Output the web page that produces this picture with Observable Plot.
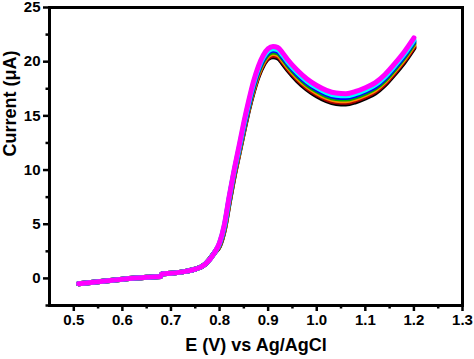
<!DOCTYPE html>
<html><head>
<meta charset="utf-8">
<script src="https://cdn.jsdelivr.net/npm/d3@7"></script>
<script src="https://cdn.jsdelivr.net/npm/@observablehq/plot@0.6"></script>
<style>body{margin:0;background:#fff;} svg{display:block;}</style>
</head><body><div id="chart"></div>
<script>
// Potential (V vs Ag/AgCl)
const potential = [0.51,0.55,0.60,0.65,0.679,0.681,0.70,0.73,0.75,0.77,0.79,
  0.80,0.81,0.82,0.83,0.84,0.85,0.86,0.87,0.88,0.89,0.90,0.91,0.92,0.93,0.94,
  0.96,0.98,1.00,1.02,1.04,1.06,1.08,1.10,1.12,1.14,1.16,1.18,1.20];

// Currents (µA), one array per scan, bottom to top
const curBlack   = [-0.5,-0.3,-0.08,0.1,0.18,0.42,0.48,0.65,0.85,1.3,2.4,
  3.0,4.5,7.0,9.4,11.5,13.6,15.6,17.3,18.7,19.7,20.3,20.45,20.35,19.85,19.25,
  18.25,17.45,16.85,16.4,16.15,16.1,16.3,16.65,17.1,17.85,18.85,19.95,21.25];
const curRed     = [-0.5,-0.3,-0.08,0.1,0.18,0.42,0.48,0.65,0.85,1.3,2.4,
  3.05,4.55,7.1,9.5,11.6,13.7,15.7,17.4,18.8,19.8,20.4,20.6,20.5,20.0,19.4,
  18.4,17.6,17.0,16.55,16.3,16.25,16.45,16.8,17.25,18.0,19.0,20.1,21.4];
const curOrange  = [-0.5,-0.3,-0.08,0.1,0.18,0.42,0.48,0.65,0.85,1.3,2.4,
  3.1,4.6,7.2,9.6,11.7,13.8,15.8,17.5,18.95,19.95,20.55,20.75,20.65,20.15,19.55,
  18.55,17.75,17.15,16.7,16.45,16.4,16.6,16.95,17.4,18.15,19.15,20.25,21.55];
const curGreen   = [-0.5,-0.3,-0.08,0.1,0.18,0.42,0.48,0.65,0.85,1.3,2.4,
  3.15,4.7,7.3,9.7,11.8,13.9,15.9,17.65,19.1,20.1,20.7,20.9,20.8,20.3,19.7,
  18.7,17.9,17.3,16.85,16.6,16.55,16.75,17.1,17.55,18.3,19.3,20.4,21.7];
const curBlue    = [-0.5,-0.3,-0.08,0.1,0.18,0.42,0.48,0.65,0.85,1.3,2.4,
  3.2,4.8,7.4,9.8,11.9,14.0,16.0,17.8,19.25,20.25,20.85,21.05,20.95,20.45,19.85,
  18.85,18.05,17.45,17.0,16.75,16.7,16.9,17.25,17.7,18.45,19.45,20.55,21.85];
const curCyan    = [-0.5,-0.3,-0.08,0.1,0.18,0.42,0.48,0.65,0.85,1.3,2.4,
  3.25,4.9,7.5,9.9,12.0,14.2,16.2,18.0,19.4,20.4,21.0,21.2,21.1,20.6,20.0,
  19.0,18.2,17.6,17.15,16.9,16.85,17.05,17.4,17.85,18.6,19.6,20.7,22.0];
const curMagenta = [-0.5,-0.3,-0.08,0.1,0.18,0.42,0.48,0.65,0.85,1.3,2.4,
  3.3,5.0,7.6,10.0,12.2,14.4,16.4,18.2,19.6,20.6,21.2,21.4,21.3,20.8,20.2,
  19.2,18.4,17.8,17.35,17.1,17.05,17.25,17.6,18.05,18.8,19.8,20.9,22.2];

const seriesNames  = ["black","red","orange","green","blue","cyan","magenta"];
const seriesColors = ["#000000","#b00000","#ff8c00","#00b000","#0000ff","#00ffff","#ff00ff"];
const seriesValues = [curBlack,curRed,curOrange,curGreen,curBlue,curCyan,curMagenta];

const xTicks = [0.5,0.6,0.7,0.8,0.9,1.0,1.1,1.2,1.3];
const xMinor = [0.55,0.65,0.75,0.85,0.95,1.05,1.15,1.25];
const yTicks = [0,5,10,15,20,25];
const yMinor = [-2.5,2.5,7.5,12.5,17.5,22.5];
const xTitle = "E (V) vs Ag/AgCl";
const yTitle = "Current (μA)";

const lineMarks = seriesValues.map((vals, k) =>
  Plot.line(vals.map((v, i) => ({x: potential[i], y: v})), {
    x: "x", y: "y", stroke: seriesColors[k], strokeWidth: 5,
    curve: "monotone-x", strokeLinecap: "round", strokeLinejoin: "round"
  })
);

const font = "Liberation Sans, Arial, sans-serif";

const chart = Plot.plot({
  width: 474, height: 359,
  marginLeft: 49, marginRight: 12, marginTop: 7, marginBottom: 54,
  x: {domain: [0.45, 1.3]},
  y: {domain: [-2.5, 25]},
  style: {fontFamily: font, fontWeight: "bold", fontSize: "15px", color: "#000", background: "#fff", overflow: "visible"},
  marks: [
    ...lineMarks,
    Plot.frame({stroke: "#000", strokeWidth: 3}),
    Plot.axisX({ticks: xTicks, tickSize: 6, strokeWidth: 2.5, tickPadding: 3,
      tickFormat: d => d.toFixed(1), label: null, fontSize: 15, fontWeight: "bold"}),
    Plot.axisX({ticks: xMinor, tickSize: 3.5, strokeWidth: 2.5, tickFormat: () => "", label: null}),
    Plot.axisY({ticks: yTicks, tickSize: 6, strokeWidth: 2.5, tickPadding: 3,
      tickFormat: d => String(d), label: null, fontSize: 15, fontWeight: "bold"}),
    Plot.axisY({ticks: yMinor, tickSize: 3.5, strokeWidth: 2.5, tickFormat: () => "", label: null}),
    Plot.text([xTitle], {frameAnchor: "bottom", dy: 45, text: d => d, fontSize: 18, fontWeight: "bold"}),
    Plot.text([yTitle], {frameAnchor: "left", dx: -39, rotate: -90, text: d => d, fontSize: 18, fontWeight: "bold"})
  ]
});
document.getElementById("chart").appendChild(chart);
</script>
</body></html>
